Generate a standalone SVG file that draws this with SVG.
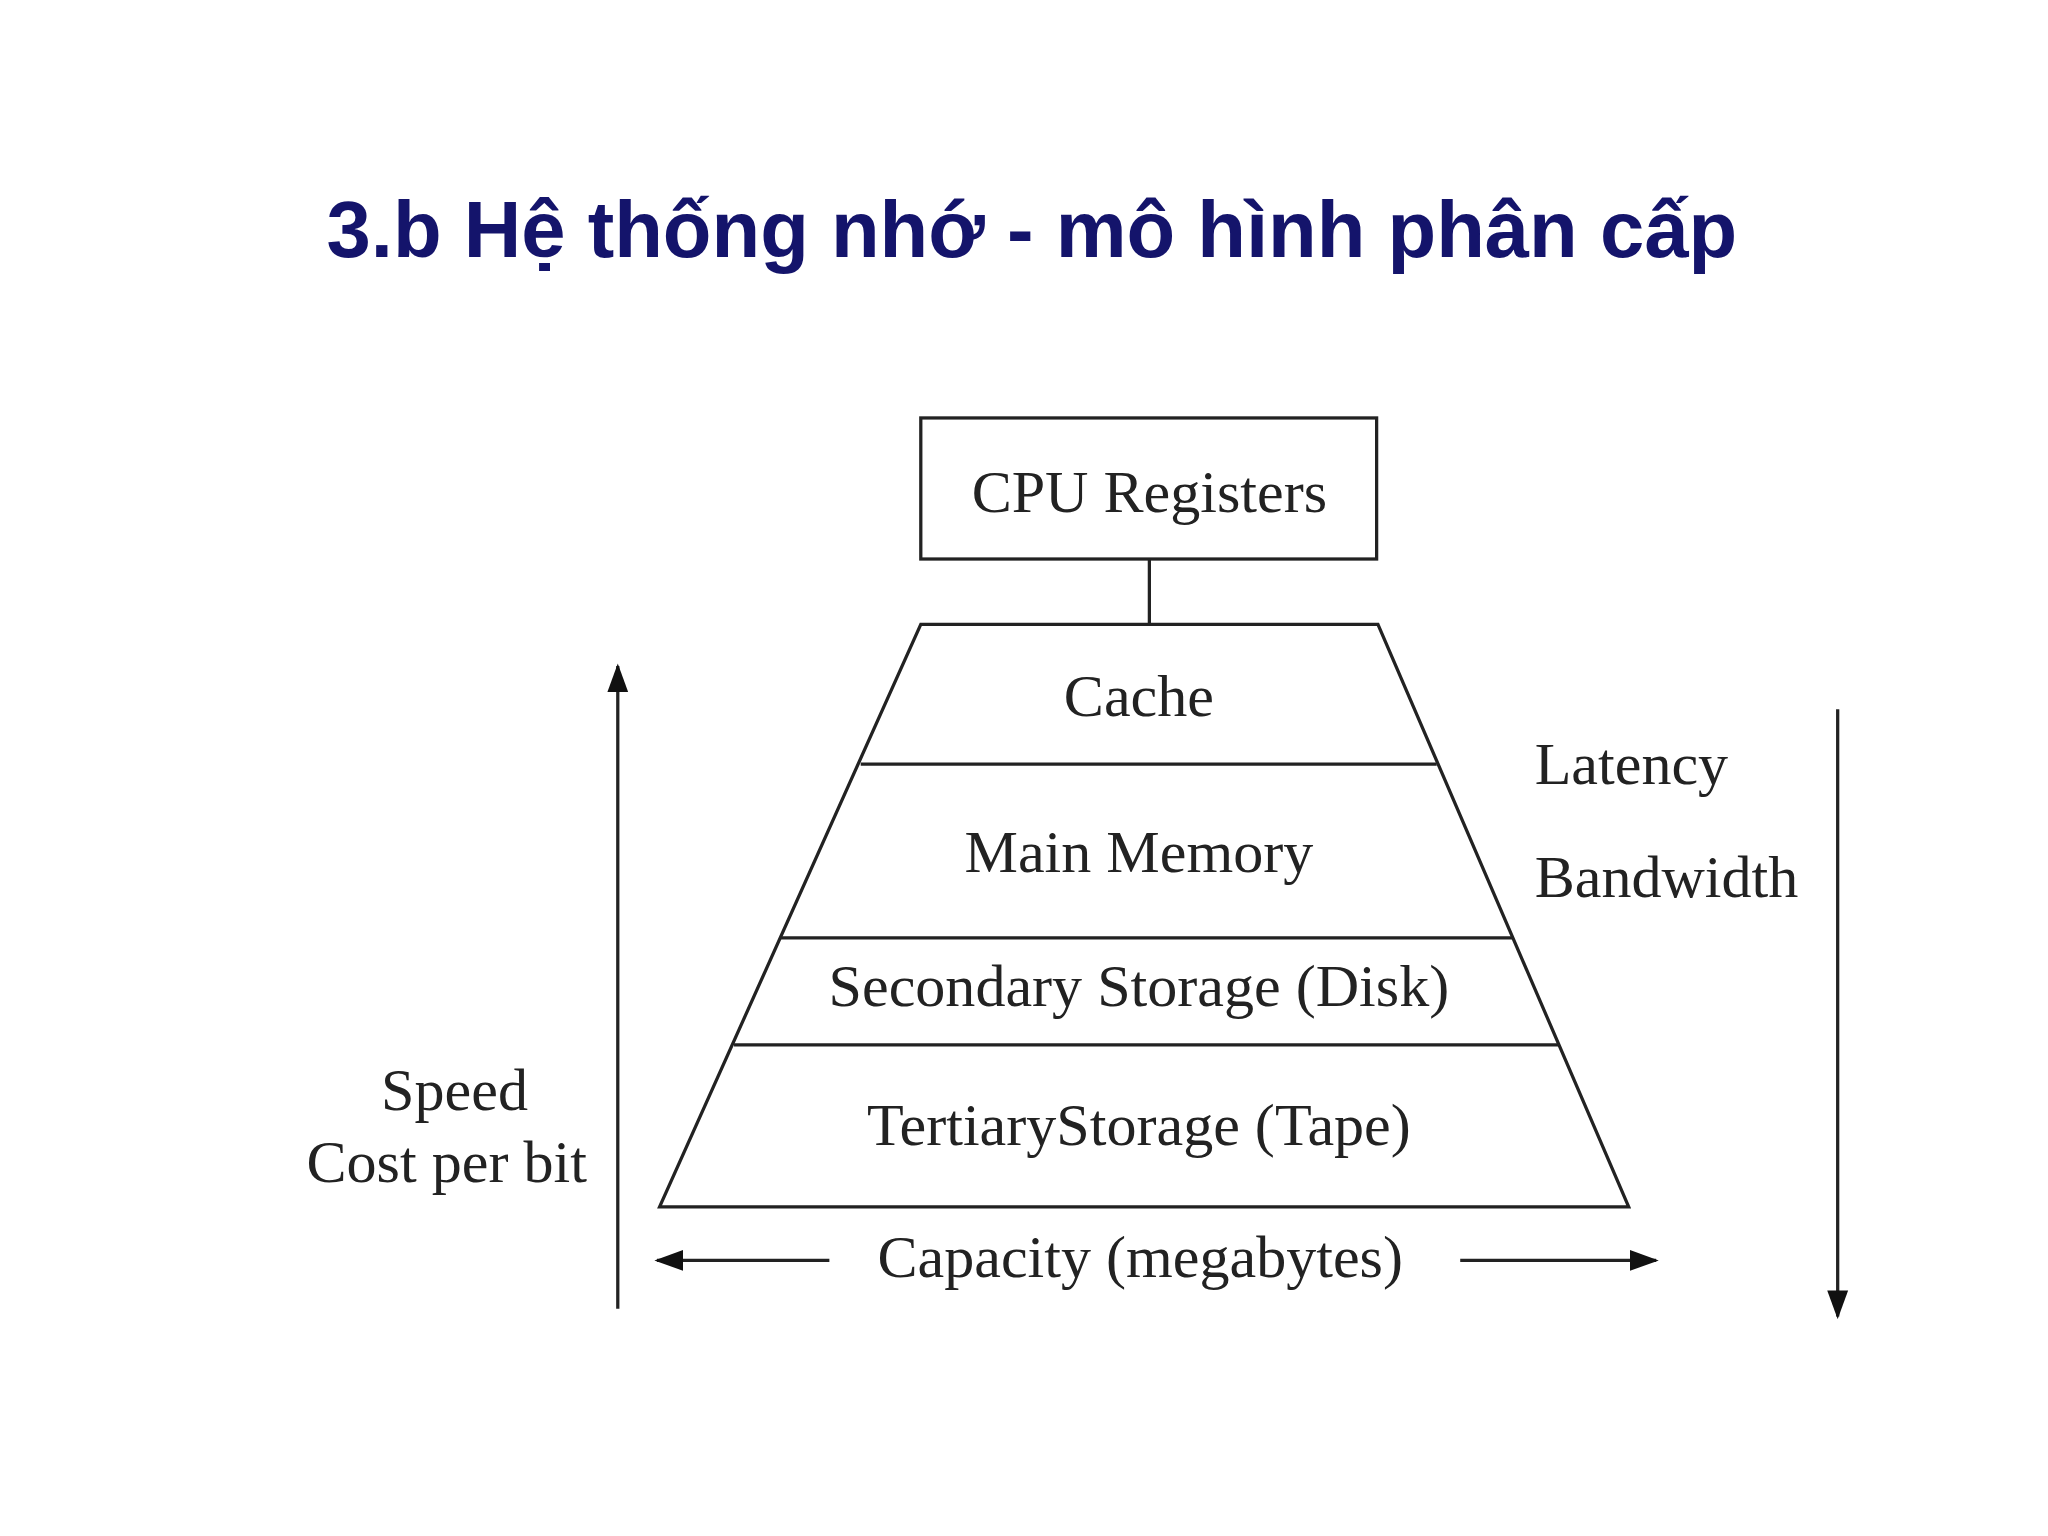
<svg xmlns="http://www.w3.org/2000/svg" width="2048" height="1536" viewBox="0 0 2048 1536">
<style>
.t{font-family:"Liberation Serif",serif;font-size:46px;fill:#222;text-anchor:middle}
.l{fill:none;stroke:#222;stroke-width:2.5}
</style>
<defs><marker id="b" markerWidth="22" markerHeight="22" refX="20" refY="11" orient="auto" markerUnits="userSpaceOnUse"><path d="M0,3 L22,11 L0,19 z" fill="#111"/></marker></defs>
<rect width="2048" height="1536" fill="#fff"/>
<g transform="scale(1.3061)">
<text x="790" y="197" style="font-family:'Liberation Sans',Arial,sans-serif;font-weight:bold;font-size:61px;fill:#14146b;text-anchor:middle">3.b Hệ thống nhớ - mô hình phân cấp</text>
<g id="cpu"><rect x="705" y="320" width="349" height="108" class="l"/><text class="t" x="880" y="392">CPU Registers</text></g>
<g id="pyramid"><path d="M705,478 L1055,478 L1247,924 L505,924 Z" class="l"/>
<line x1="659" y1="585" x2="1100" y2="585" class="l"/><line x1="598" y1="718" x2="1158" y2="718" class="l"/><line x1="562" y1="800" x2="1194" y2="800" class="l"/></g>
<g id="cache"><text class="t" x="872" y="548">Cache</text></g>
<g id="main"><text class="t" x="872" y="668">Main Memory</text></g>
<g id="disk"><text class="t" x="872" y="770">Secondary Storage (Disk)</text></g>
<g id="tape"><text class="t" x="872" y="877">TertiaryStorage (Tape)</text></g>
<g id="labels">
<text class="t" x="873" y="978">Capacity (megabytes)</text>
<text class="t" x="348" y="850">Speed</text><text class="t" x="342" y="905">Cost per bit</text>
<text class="t" x="1175" y="600" style="text-anchor:start">Latency</text>
<text class="t" x="1175" y="687" style="text-anchor:start">Bandwidth</text></g>
<g id="connectors">
<line x1="880" y1="428" x2="880" y2="478" class="l"/>
<line x1="635" y1="965" x2="503" y2="965" class="l" marker-end="url(#b)"/>
<line x1="1118" y1="965" x2="1268" y2="965" class="l" marker-end="url(#b)"/>
<line x1="473" y1="1002" x2="473" y2="510" class="l" marker-end="url(#b)"/>
<line x1="1407" y1="543" x2="1407" y2="1008" class="l" marker-end="url(#b)"/>
</g>
</g>
</svg>
